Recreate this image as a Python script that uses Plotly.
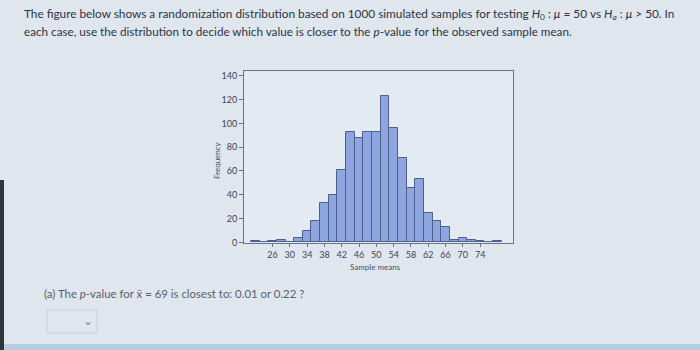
import plotly.graph_objects as go

# ---- data ----
bin_centers = [22, 24, 26, 28, 30, 32, 34, 36, 38, 40, 42, 44, 46, 48, 50,
               52, 54, 56, 58, 60, 62, 64, 66, 68, 70, 72, 74, 76, 78]
frequencies = [1, 0, 1, 2, 0, 4, 10, 18, 33, 40, 61, 93, 88, 93, 93,
               123, 96, 71, 46, 53, 25, 18, 13, 2, 4, 2, 1, 0, 1]
x_tick_vals = [26, 30, 34, 38, 42, 46, 50, 54, 58, 62, 66, 70, 74]
y_tick_vals = [0, 20, 40, 60, 80, 100, 120, 140]

W, H = 700, 350
L, R, T, B = 244, 513, 71, 243   # plot area in pixels

def px(x):
    return (x - L) / (R - L)

def py(y):
    return (B - y) / (B - T)

BG = "#e0e6ee"
TXT = "#2c3444"

fig = go.Figure()
fig.add_trace(go.Bar(
    x=bin_centers, y=frequencies, width=2,
    marker=dict(color="#8ea5df", line=dict(color="#4d5f8f", width=1)),
    showlegend=False,
))

font_main = "Lato, sans-serif"

annotations = [
    dict(text="The figure below shows a randomization distribution based on 1000 simulated samples for testing "
              "<i>H</i><sub>0</sub> : <i>μ</i> = 50 vs <i>H</i><sub><i>a</i></sub> : <i>μ</i> &gt; 50. In",
         x=px(22), y=py(14), xanchor="left", yanchor="middle", font=dict(size=11.8, color=TXT, family=font_main)),
    dict(text="each case, use the distribution to decide which value is closer to the <i>p</i>-value for the observed sample mean.",
         x=px(22), y=py(31), xanchor="left", yanchor="middle", font=dict(size=11.7, color=TXT, family=font_main)),
    dict(text="(a) The <i>p</i>-value for x̄ = 69 is closest to: 0.01 or 0.22 ?",
         x=px(42), y=py(293), xanchor="left", yanchor="middle", font=dict(size=11.4, color="#566070", family=font_main)),
    dict(text="Frequency", textangle=-90, x=px(217), y=py(160), xanchor="center", yanchor="middle",
         font=dict(size=8, color="#4a5262", family=font_main)),
    dict(text="Sample means", x=px(375), y=py(267), xanchor="center", yanchor="middle",
         font=dict(size=8, color="#4a5262", family=font_main)),
    dict(text="⌄", x=px(88), y=py(320), xanchor="center", yanchor="middle",
         font=dict(size=12, color="#7a8aa8")),
]
for a in annotations:
    a.update(xref="paper", yref="paper", showarrow=False)

shapes = [
    # dropdown box
    dict(type="rect", xref="paper", yref="paper", x0=px(47), x1=px(97), y0=py(333), y1=py(310),
         line=dict(color="#c9d0da", width=1), fillcolor="rgba(0,0,0,0)", layer="below"),
    # bottom blue strip
    dict(type="rect", xref="paper", yref="paper", x0=px(0), x1=px(700), y0=py(350), y1=py(344),
         line=dict(width=0), fillcolor="#b6cde2", layer="below"),
    # dark screen edge on left
    dict(type="rect", xref="paper", yref="paper", x0=px(0), x1=px(4), y0=py(350), y1=py(180),
         line=dict(width=0), fillcolor="#30343c", layer="below"),
]

fig.update_layout(
    width=W, height=H,
    margin=dict(l=L, r=W - R, t=T, b=H - B, pad=0),
    paper_bgcolor=BG, plot_bgcolor="#e4eaf1",
    bargap=0,
    font=dict(family=font_main, color=TXT),
    annotations=annotations, shapes=shapes,
    xaxis=dict(range=[19.4, 81.6], tickmode="array", tickvals=x_tick_vals,
               ticks="outside", ticklen=3, tickcolor="#6a7386", tickfont=dict(size=9, color="#3c4454"),
               showgrid=False, zeroline=False, showline=True, linecolor="#6a7386", linewidth=1, mirror=True),
    yaxis=dict(range=[-0.5, 144], tickmode="array", tickvals=y_tick_vals,
               ticks="outside", ticklen=4, tickcolor="#6a7386", tickfont=dict(size=9, color="#3c4454"),
               showgrid=False, zeroline=False, showline=True, linecolor="#6a7386", linewidth=1, mirror=True),
)

fig.write_html("out.html")
